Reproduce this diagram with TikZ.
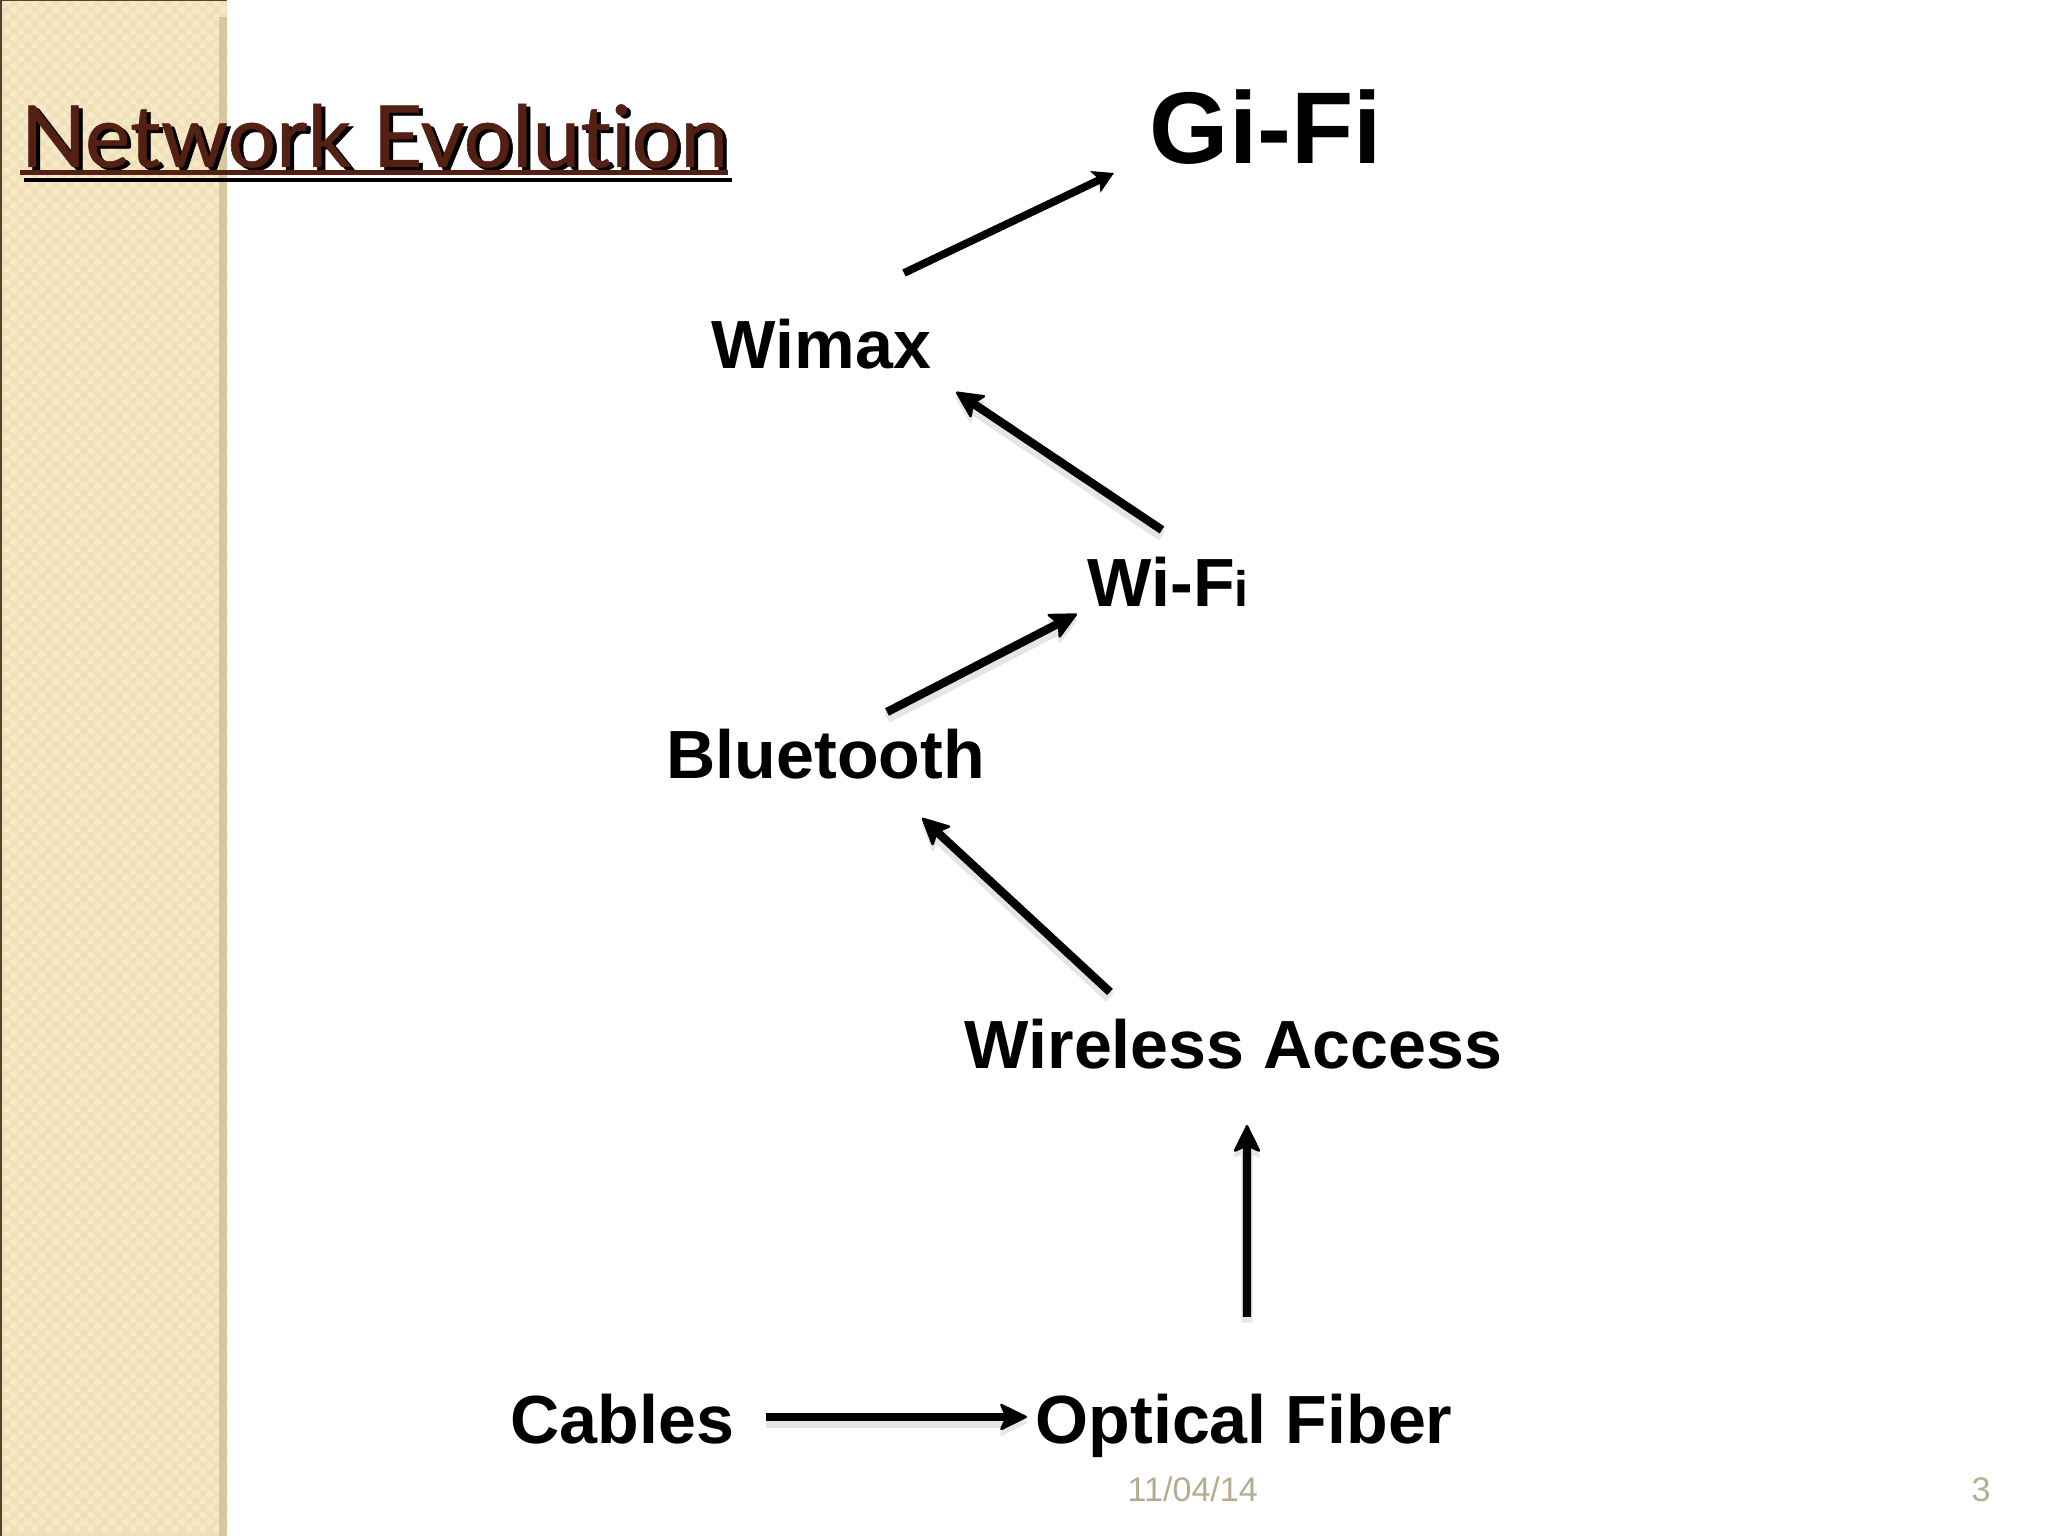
\documentclass[tikz,border=0pt]{standalone}
\usepackage{fontspec}
\setmainfont{Liberation Sans}
\newfontfamily\titlefont[Ligatures=NoCommon, FakeBold=0.6]{Lato}
\usepackage{xcolor}
\usetikzlibrary{arrows.meta}
\definecolor{bandcream}{RGB}{240, 224, 186}
\definecolor{banddot}{RGB}{247, 233, 197}
\definecolor{bandedge}{RGB}{213, 200, 156}
\definecolor{bandline}{RGB}{90, 60, 50}
\definecolor{titlebrown}{RGB}{84, 32, 20}
\definecolor{footgray}{RGB}{181, 171, 142}
\tikzset{
    technode/.style={anchor=base west, inner sep=0pt, font=\fontsize{19.4}{19.4}\selectfont\bfseries},
    topnode/.style={technode, font=\fontsize{29}{29}\selectfont\bfseries},
    footnode/.style={anchor=base west, inner sep=0pt, text=footgray, font=\fontsize{9.7}{9.7}\selectfont},
    titlenode/.style={anchor=base west, inner sep=0pt, font=\fontsize{24.4}{24.4}\selectfont\titlefont},
    steparrow/.style={line width=2.4pt, -{Stealth[round, length=8.4pt, width=8.2pt, inset=1.8pt, line width=.7pt]},
        preaction={draw=black!10, line width=3.2pt, transform canvas={yshift=-1.6pt}}},
    thinarrow/.style={line width=2.2pt, -{Stealth[length=5.8pt, width=6.6pt, inset=1.2pt]}}
}
\begin{document}
\begin{tikzpicture}
    \useasboundingbox (0,0) rectangle (20.48,15.36);
    % side band
    \fill[bandcream] (0,0) rectangle (2.27,15.36);
    \fill[banddot] \foreach \i in {0,...,15} {\foreach \j in {0,...,110} {
        (.07+.14*\i,.07+.14*\j) +(-.035,-.035) rectangle +(.035,.035)
        (.14+.14*\i,.14+.14*\j) +(-.035,-.035) rectangle +(.035,.035)}};
    \fill[bandedge] (2.19,0) rectangle (2.27,15.19);
    \fill[bandline] (0,0) rectangle (.02,15.36);
    \fill[bandline] (0,15.345) rectangle (2.27,15.36);
    % title, with its shade
    \node[titlenode, text=black] (titleshade) at (.24,13.66) {Network Evolution};
    \node[titlenode, text=titlebrown] (titletext) at (.20,13.69) {Network Evolution};
    \fill[black] ([shift={(0,-.12)}]titleshade.base west) rectangle ([shift={(0,-.08)}]titleshade.base east);
    \fill[titlebrown] ([shift={(0,-.08)}]titletext.base west) rectangle ([shift={(0,-.03)}]titletext.base east);
    % the steps
    \node[topnode] (gifi) at (11.49,13.72) {Gi-Fi};
    \node[technode] (wimax) at (7.11,11.67) {Wimax};
    \node[technode] (wifi) at (10.87,9.29) {Wi-F{\fontsize{14.2}{14.2}\selectfont i}};
    \node[technode] (bluetooth) at (6.66,7.57) {Bluetooth};
    \node[technode] (wireless) at (9.64,4.67) {Wireless Access};
    \node[technode] (cables) at (5.10,.92) {Cables};
    \node[technode] (optical) at (10.35,.92) {Optical Fiber};
    \node[footnode] (datenode) at (11.27,.34) {11/04/14};
    \node[footnode] (pagenode) at (19.71,.34) {3};
    % arrows
    \draw[steparrow] ([shift={(2.56,.27)}]cables.base west) -- ([shift={(-.08,.27)}]optical.base west);
    \draw[steparrow] ([shift={(2.12,1.27)}]optical.base west) -- ([shift={(2.83,-.56)}]wireless.base west);
    \draw[steparrow] ([shift={(1.46,.77)}]wireless.base west) -- ([shift={(2.56,-.39)}]bluetooth.base west);
    \draw[steparrow] ([shift={(2.21,.67)}]bluetooth.base west) -- ([shift={(-.10,-.07)}]wifi.base west);
    \draw[steparrow] ([shift={(.75,.77)}]wifi.base west) -- ([shift={(2.45,-.23)}]wimax.base west);
    \draw[thinarrow] ([shift={(1.93,.96)}]wimax.base west) -- ([shift={(-.35,-.09)}]gifi.base west);
\end{tikzpicture}
\end{document}
